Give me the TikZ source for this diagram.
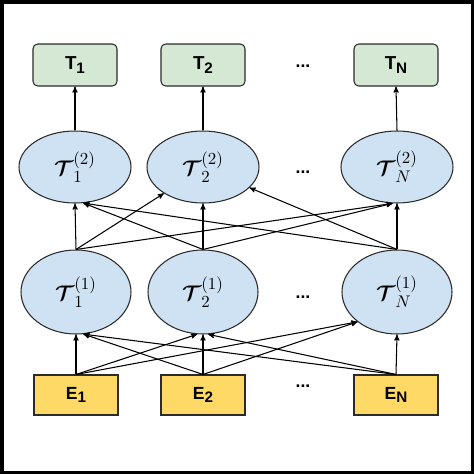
\documentclass[tikz,border=0pt]{standalone}
\usepackage{amsmath}
\usepackage{amssymb}
\usepackage{graphicx}
\usepackage{fontspec}
\usetikzlibrary{arrows,shapes.geometric}
\newfontfamily\boxfont{Liberation Sans}
\definecolor{outgreen}{HTML}{D5E8D4}
\definecolor{hidblue}{HTML}{CFE2F3}
\definecolor{embyellow}{HTML}{FFD966}
\definecolor{linegray}{HTML}{2B2B2B}
\newcommand{\sublbl}[2]{{\boxfont\bfseries #1\raisebox{-0.4ex}{\fontsize{13}{13}\selectfont #2}}}
\newcommand{\hidlbl}[2]{\scalebox{1.8}{$\boldsymbol{\mathcal{T}}%
  _{\scalebox{0.8}{$#1$}}^{\scalebox{0.8}{$(#2)$}}$}}

\begin{document}
\begin{tikzpicture}[x=0.03cm,y=-0.03cm,->,>=stealth',shorten >=0pt,
  line width=0.9pt]
  \tikzstyle{outbox}=[draw=linegray,fill=outgreen,rounded corners=4pt,inner sep=0pt,
    minimum width=2.52cm,minimum height=1.26cm,font=\fontsize{16}{18}\selectfont]
  \tikzstyle{embbox}=[draw=linegray,fill=embyellow,inner sep=0pt,
    minimum width=2.52cm,minimum height=1.2cm,font=\fontsize{15}{18}\selectfont]
  \tikzstyle{upper}=[ellipse,draw=linegray,fill=hidblue,inner sep=0pt,
    minimum width=3.36cm,minimum height=2.16cm]
  \tikzstyle{lower}=[upper,minimum width=3.3cm,minimum height=2.52cm]
  \tikzstyle{dots}=[font=\boxfont\bfseries\fontsize{15}{18}\selectfont]

  \useasboundingbox (0,0) rectangle (474,474);
  \draw[-,line width=0.105cm] (1.75,1.75) rectangle (472.25,472.25);

  \node[outbox] (T1) at (75,65)  {\sublbl{T}{1}};
  \node[outbox] (T2) at (203,65) {\sublbl{T}{2}};
  \node[outbox] (TN) at (396,65) {\sublbl{T}{N}};
  \node[dots]   (d1) at (303,66) {...};

  \node[upper] (B1) at (75,167)  {\hidlbl{1}{2}};
  \node[upper] (B2) at (203,167) {\hidlbl{2}{2}};
  \node[upper] (BN) at (397,167) {\hidlbl{N}{2}};
  \node[dots]  (d2) at (303,172) {...};

  \node[lower] (A1) at (76,292)  {\hidlbl{1}{1}};
  \node[lower] (A2) at (203,292) {\hidlbl{2}{1}};
  \node[lower] (AN) at (397,292) {\hidlbl{N}{1}};
  \node[dots]  (d3) at (303,297) {...};

  \node[embbox] (E1) at (76,395)  {\sublbl{E}{1}};
  \node[embbox] (E2) at (203,395) {\sublbl{E}{2}};
  \node[embbox] (EN) at (396,395) {\sublbl{E}{N}};
  \node[dots]   (d4) at (303,386) {...};

  \path (B1.north) edge (T1.south)
        (B2.north) edge (T2.south)
        (BN.north) edge (TN.south)
        (A1.north) edge (B1.south)
                   edge (B2.-146)
                   edge (BN.-97)
        (A2.north) edge (B1.-77)
                   edge (B2.south)
                   edge (BN.-97)
        (AN.north) edge (B1.-77)
                   edge (B2.-24)
                   edge (BN.south)
        (E1.north) edge (A1.south)
                   edge (A2.-98)
                   edge (AN.-143)
        (E2.north) edge (A1.-80)
                   edge (A2.south)
                   edge (AN.-143)
        (EN.north) edge (A1.-80)
                   edge (A2.-83)
                   edge (AN.south);
\end{tikzpicture}
\end{document}
